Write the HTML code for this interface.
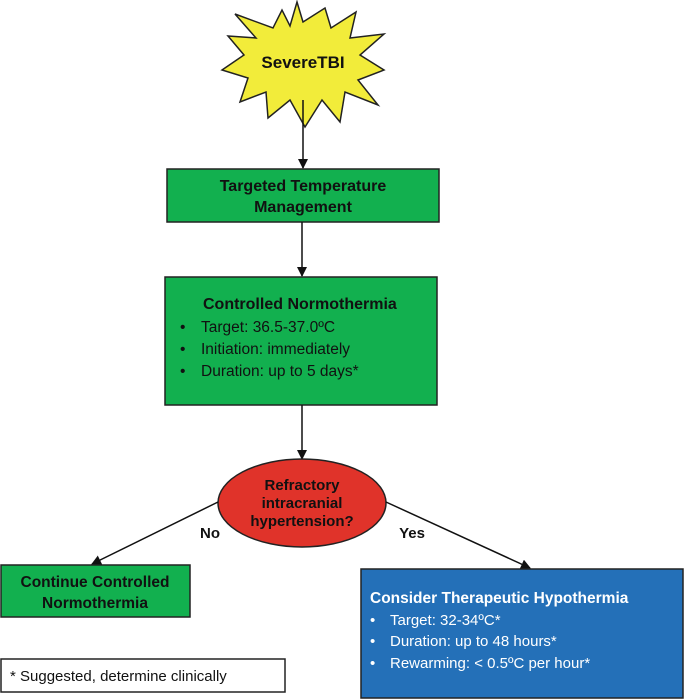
<!DOCTYPE html>
<html><head><meta charset="utf-8"><style>
body{margin:0;background:#fff;}
svg{display:block;font-family:"Liberation Sans",Arial,sans-serif;}
</style></head><body>
<svg width="685" height="700" viewBox="0 0 685 700">
<defs><marker id="a" markerWidth="10" markerHeight="10" refX="9" refY="5" orient="auto" markerUnits="userSpaceOnUse"><path d="M0,0 L10,5 L0,10 Z" fill="#111"/></marker></defs>
<polygon fill="#f2ec3a" stroke="#222" stroke-width="1.5" points="303,22 325,8 331,28 356,12 350,38 384,34 360,55 384,70 358,80 378,105 345,92 340,122 322,100 305,127 290,100 268,118 266,92 240,102 248,78 222,70 244,55 228,36 256,38 235,14 273,28 282,10 290,26 297,2"/>
<text x="303" y="68" font-size="17" font-weight="bold" text-anchor="middle" fill="#111">SevereTBI</text>
<line x1="303" y1="100" x2="303" y2="168" stroke="#111" stroke-width="1.5" marker-end="url(#a)"/>
<rect x="167" y="169" width="272" height="53" fill="#12b04f" stroke="#222" stroke-width="1.5"/>
<text x="303" y="191" font-size="16" font-weight="bold" text-anchor="middle" fill="#111">Targeted Temperature</text>
<text x="303" y="212" font-size="16" font-weight="bold" text-anchor="middle" fill="#111">Management</text>
<line x1="302" y1="222" x2="302" y2="276" stroke="#111" stroke-width="1.5" marker-end="url(#a)"/>
<rect x="165" y="277" width="272" height="128" fill="#12b04f" stroke="#222" stroke-width="1.5"/>
<text x="203" y="309" font-size="16" font-weight="bold" fill="#111">Controlled Normothermia</text>
<g font-size="15.5" fill="#111">
<text x="180" y="332">•</text><text x="201" y="332">Target: 36.5-37.0ºC</text>
<text x="180" y="354">•</text><text x="201" y="354">Initiation: immediately</text>
<text x="180" y="376">•</text><text x="201" y="376">Duration: up to 5 days*</text>
</g>
<line x1="302" y1="405" x2="302" y2="459" stroke="#111" stroke-width="1.5" marker-end="url(#a)"/>
<ellipse cx="302" cy="503" rx="84" ry="44" fill="#e0332a" stroke="#222" stroke-width="1.5"/>
<g font-size="15" font-weight="bold" text-anchor="middle" fill="#111">
<text x="302" y="490">Refractory</text>
<text x="302" y="508">intracranial</text>
<text x="302" y="526">hypertension?</text>
</g>
<line x1="218" y1="502" x2="92" y2="564" stroke="#111" stroke-width="1.5" marker-end="url(#a)"/>
<line x1="386" y1="502" x2="530" y2="568" stroke="#111" stroke-width="1.5" marker-end="url(#a)"/>
<text x="210" y="538" font-size="15" font-weight="bold" text-anchor="middle" fill="#111">No</text>
<text x="412" y="538" font-size="15" font-weight="bold" text-anchor="middle" fill="#111">Yes</text>
<rect x="1" y="565" width="189" height="52" fill="#12b04f" stroke="#222" stroke-width="1.5"/>
<text x="95" y="587" font-size="15.5" font-weight="bold" text-anchor="middle" fill="#111">Continue Controlled</text>
<text x="95" y="608" font-size="15.5" font-weight="bold" text-anchor="middle" fill="#111">Normothermia</text>
<rect x="361" y="569" width="322" height="129" fill="#2470b8" stroke="#222" stroke-width="1.5"/>
<text x="370" y="603" font-size="15.5" font-weight="bold" fill="#fff">Consider Therapeutic Hypothermia</text>
<g font-size="15" fill="#fff">
<text x="370" y="625">•</text><text x="390" y="625">Target: 32-34ºC*</text>
<text x="370" y="646">•</text><text x="390" y="646">Duration: up to 48 hours*</text>
<text x="370" y="668">•</text><text x="390" y="668">Rewarming: &lt; 0.5ºC per hour*</text>
</g>
<rect x="1" y="659" width="284" height="33" fill="#fff" stroke="#222" stroke-width="1.5"/>
<text x="10" y="681" font-size="15" fill="#111">* Suggested, determine  clinically</text>
</svg>
</body></html>
